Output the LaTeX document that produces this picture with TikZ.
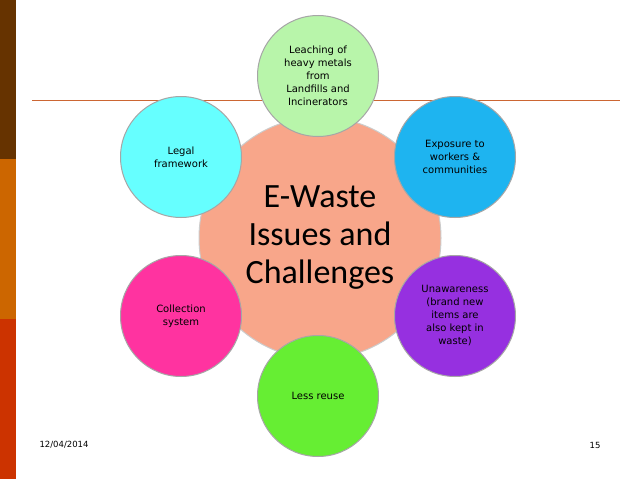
\documentclass[tikz,border=0pt]{standalone}
\usepackage{fontspec}
\setmainfont{DejaVu Sans}
\newfontfamily\bigf{Carlito}
\begin{document}
\begin{tikzpicture}[x=1pt,y=-1pt,
 sat/.style={circle,draw=gray!70,line width=1pt,minimum size=121pt,inner sep=0pt,align=center,font=\fontsize{10}{13}\selectfont},
 lbl/.style={font=\fontsize{8.5}{10}\selectfont}]
\useasboundingbox (0,0) rectangle (638,479);
\fill[white] (0,0) rectangle (638,479);
\fill[fill={rgb,255:red,102;green,51;blue,0}] (0,0) rectangle (16,159);
\fill[fill={rgb,255:red,204;green,102;blue,0}] (0,159) rectangle (16,319);
\fill[fill={rgb,255:red,204;green,51;blue,0}] (0,319) rectangle (16,479);
\coordinate (l1) at (32,100); \coordinate (l2) at (620,100);
\draw[line width=1pt,draw={rgb,255:red,204;green,102;blue,51}] (l1) -- (l2);
\node[circle,draw=gray!40,line width=1pt,minimum size=242pt,fill={rgb,255:red,248;green,166;blue,138},align=center,font=\bigf\fontsize{34}{38}\selectfont] (c) at (320,238) {E-Waste\\Issues and\\Challenges};
\node[sat,fill={rgb,255:red,184;green,245;blue,170}] (t) at (318,76) {Leaching of\\heavy metals\\from\\Landfills and\\Incinerators};
\node[sat,fill={rgb,255:red,30;green,180;blue,240}] (ur) at (455,157) {Exposure to\\workers \&\\communities};
\node[sat,fill={rgb,255:red,150;green,48;blue,224}] (lr) at (455,316) {Unawareness\\(brand new\\items are\\also kept in\\waste)};
\node[sat,fill={rgb,255:red,102;green,238;blue,51}] (b) at (318,396) {Less reuse};
\node[sat,fill={rgb,255:red,255;green,51;blue,160}] (ll) at (181,316) {Collection\\system};
\node[sat,fill={rgb,255:red,102;green,255;blue,255}] (ul) at (181,157) {Legal\\framework};
\node[lbl,anchor=west] (d) at (36,445) {12/04/2014};
\node[lbl,anchor=east] (p) at (604,445) {15};
\end{tikzpicture}
\end{document}
